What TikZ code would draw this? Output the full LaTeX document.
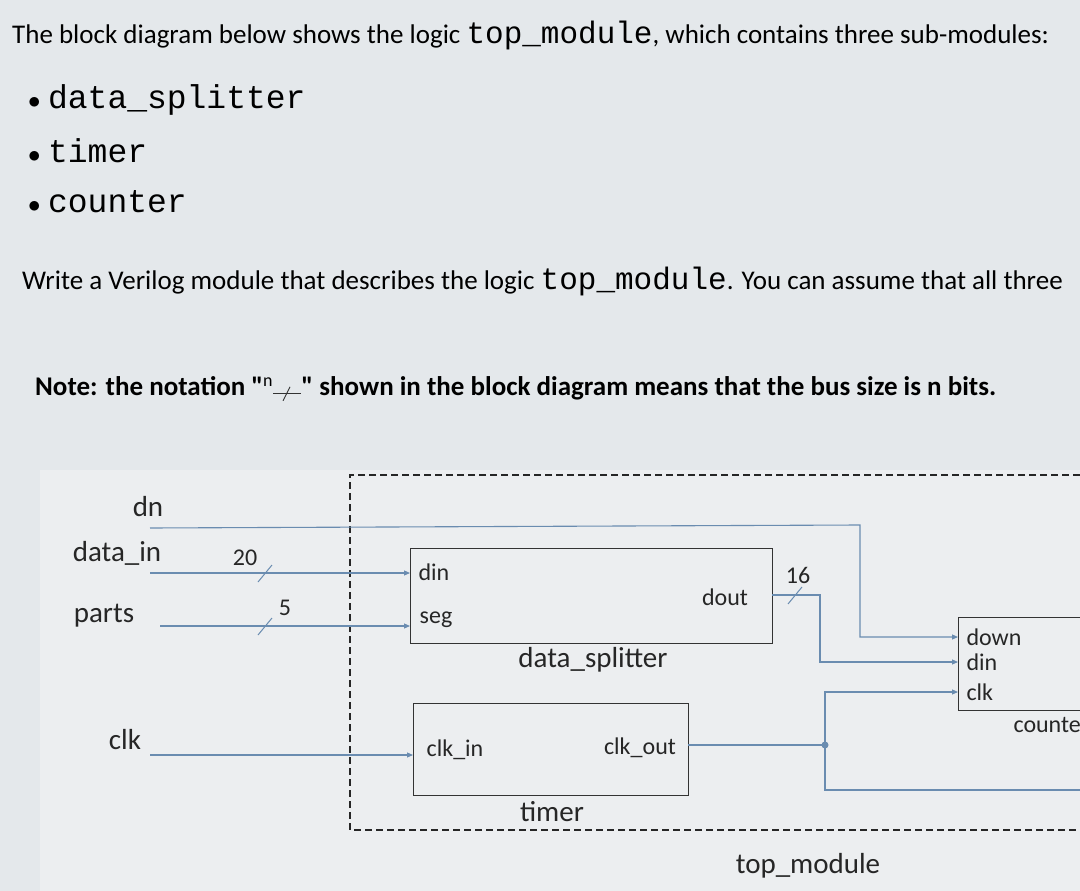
\documentclass[tikz,border=0pt]{standalone}
\usepackage{fontspec}
\setmainfont{Carlito}
\newfontfamily\cmono{Liberation Mono}
\usetikzlibrary{arrows.meta}
\begin{document}
\begin{tikzpicture}[x=1pt,y=-1pt,
  wire/.style={draw=wirec,line width=1.1pt},
  arr/.style={wire,-{Triangle[length=6pt,width=5pt]}},
  blk/.style={draw=black!80,line width=1.3pt},
  lab/.style={font=\fontsize{29}{31}\selectfont,text=black!85},
  plab/.style={font=\fontsize{24}{26}\selectfont,text=black!85},
  bus/.style={draw=wirec,line width=1pt},
  dashline/.style={draw=black!85,line width=2.2pt,dash pattern=on 7pt off 4pt}]
\definecolor{wirec}{HTML}{6A8CB0}
\useasboundingbox (0,0) rectangle (1080,891);
\clip (0,0) rectangle (1080,891);
\fill[fill={rgb,255:red,228;green,232;blue,235}] (0,0) rectangle (1080,891);
\fill[fill={rgb,255:red,236;green,238;blue,240}] (40,470) rectangle (1080,891);
\node[anchor=west,font=\fontsize{27}{29}\selectfont,inner sep=0pt] (t1) at (12,35) {The block diagram below shows the logic {\cmono\fontsize{31}{32}\selectfont top\_module}, which contains three sub-modules:};
\node[anchor=west,font=\fontsize{33}{34}\selectfont,inner sep=0pt] (b1) at (28,100) {$\bullet$\ {\cmono data\_splitter}};
\node[anchor=west,font=\fontsize{33}{34}\selectfont,inner sep=0pt] (b2) at (28,151) {$\bullet$\ {\cmono timer}};
\node[anchor=west,font=\fontsize{33}{34}\selectfont,inner sep=0pt] (b3) at (28,202) {$\bullet$\ {\cmono counter}};
\node[anchor=west,font=\fontsize{27}{29}\selectfont,inner sep=0pt] (t2) at (22,281) {Write a Verilog module that describes the logic {\cmono\fontsize{31}{32}\selectfont top\_module}. You can assume that all three};
\node[anchor=west,font=\bfseries\fontsize{27}{29}\selectfont,inner sep=0pt] (t3) at (35,389) {Note: the notation \textquotedbl\raisebox{9pt}{\mdseries\fontsize{18}{18}\selectfont n}\tikz[baseline]{\draw[black!80,line width=.8pt](-8pt,2pt)--(20pt,2pt);\draw[black!80,line width=.8pt](2pt,-5pt)--(9pt,9pt);}\textquotedbl\ shown in the block diagram means that the bus size is n bits.};
% dashed border
\draw[dashline] (1080,475) -- (350,475) -- (350,830) -- (1080,830);
% labels
\node[lab] (ldn) at (148,507) {dn};
\node[lab] (ldi) at (117,553) {data\_in};
\node[lab] (lpa) at (104,616) {parts};
\node[lab] (lck) at (125,740) {clk};
% boxes
\node[blk,minimum width=362pt,minimum height=95pt,anchor=north west] (ds) at (410,548) {};
\node[blk,minimum width=275pt,minimum height=92pt,anchor=north west] (tm) at (413,703) {};
\node[blk,minimum width=150pt,minimum height=93pt,anchor=north west] (ct) at (958,617) {};
\node[plab] (pdin) at (434,572) {din};
\node[plab] (pseg) at (436,620) {seg};
\node[plab] (pdout) at (725,597) {dout};
\node[lab] (nds) at (593,660) {data\_splitter};
\node[plab] (pcin) at (455,750) {clk\_in};
\node[plab] (pcout) at (640,748) {clk\_out};
\node[lab] (ntm) at (552,812) {timer};
\node[plab,anchor=west] (pdown) at (963,637) {down};
\node[plab,anchor=west] (pdi2) at (963,662) {din};
\node[plab,anchor=west] (pclk) at (963,692) {clk};
\node[plab,anchor=west] (nct) at (1010,725) {counter};
\node[lab] (ntop) at (808,866) {top\_module};
% wires
\coordinate (dnS) at (150,528);
\draw[arr] (dnS) -- (860,525) -- (860,637) -- (ct.north west |- 0,637);
\coordinate (diS) at (150,573);
\draw[arr] (diS) -- (ds.north west |- 0,573);
\coordinate (paS) at (160,626);
\draw[arr] (paS) -- (ds.north west |- 0,626);
\coordinate (dsO) at (772,595);
\draw[arr] (dsO) -- (820,595) -- (820,662) -- (ct.north west |- 0,662);
\coordinate (ckS) at (150,755);
\draw[arr] (ckS) -- (tm.north west |- 0,755);
\coordinate (tmO) at (688,745);
\coordinate (jn) at (825,745);
\draw[wire] (tmO) -- (jn);
\fill[wirec] (jn) circle (3.5pt);
\draw[arr] (jn) -- (825,692) -- (ct.north west |- 0,692);
\coordinate (cEnd) at (1080,790);
\draw[wire] (jn) -- (825,790) -- (cEnd);
% bus marks
\draw[bus] (258,582) -- (272,565);
\node[plab] (n20) at (245,558) {20};
\draw[bus] (258,635) -- (272,618);
\node[plab] (n5) at (285,608) {5};
\draw[bus] (788,604) -- (802,587);
\node[plab] (n16) at (798,575) {16};
\end{tikzpicture}
\end{document}
